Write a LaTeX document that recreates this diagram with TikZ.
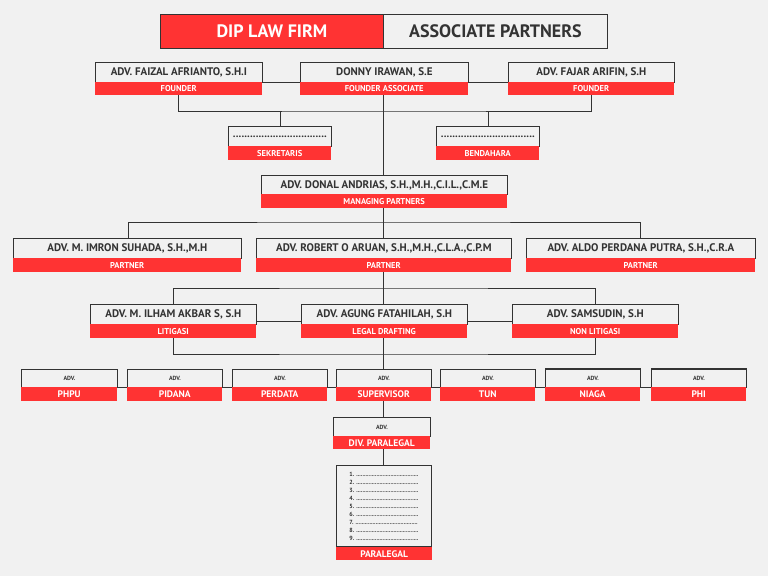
\documentclass[tikz,border=0pt]{standalone}
\usepackage{fontspec}
\setmainfont{PT Sans}
\usetikzlibrary{calc}
\definecolor{bg}{HTML}{F1F1F1}
\definecolor{firmred}{HTML}{FF3333}
\definecolor{ink}{HTML}{333333}
\tikzset{
  top box/.style={draw=ink, line width=0.8pt, fill=bg, inner sep=0pt, text=ink,
    font=\bfseries\fontsize{#1}{#1}\selectfont},
  top box/.default=11,
  role box/.style={fill=firmred, inner sep=0pt, text=white,
    font=\bfseries\fontsize{#1}{#1}\selectfont},
  link/.style={draw=ink, line width=0.7pt},
}
% \post{name}{x1}{x2}{ytop}{ysplit}{ybottom}{name text}{role text}{role size}
\newcommand{\post}[9]{%
  \node[top box, minimum width={#3-#2}, minimum height={#5-#4}, anchor=north west]
    (#1) at (#2,#4) {#7};
  \node[role box=#9, minimum width={#3-#2}, minimum height={#6-#5}, anchor=north west]
    (#1r) at (#2,#5) {#8};}
\begin{document}
\begin{tikzpicture}[x=1pt, y=-1pt]
  \fill[bg] (0,0) rectangle (768,576);
  \useasboundingbox (0,0) rectangle (768,576);
  \coordinate (spine) at (383,0);

  % title
  \node[fill=firmred, draw=ink, line width=0.8pt, minimum width=223, minimum height=34,
    anchor=north west, text=white, font=\bfseries\fontsize{18}{18}\selectfont] (firm) at (160,14) {DIP LAW FIRM};
  \node[top box=18, minimum width=224, minimum height=34, anchor=north west] (assoc) at (383,14) {ASSOCIATE PARTNERS};

  % founders
  \draw[link] (177,82) -- (590,82);
  \post{faizal}{95}{262}{62}{82}{95}{ADV. FAIZAL AFRIANTO, S.H.I}{FOUNDER}{8.5}
  \post{donny}{300}{468}{62}{82}{95}{DONNY IRAWAN, S.E}{FOUNDER ASSOCIATE}{8.5}
  \post{fajar}{508}{674}{62}{82}{95}{ADV. FAJAR ARIFIN, S.H}{FOUNDER}{8.5}
  \coordinate (split) at (383,111);
  \draw[link] (faizalr.south) |- (split) -| (fajarr.south);

  \post{sekre}{228}{331}{126}{146}{160}{.................................}{SEKRETARIS}{8.5}
  \post{benda}{436}{539}{126}{146}{160}{.................................}{BENDAHARA}{8.5}
  \draw[link] (sekre.north) -- (sekre.north |- split);
  \draw[link] (benda.north) -- (benda.north |- split);

  % managing
  \post{donal}{261}{507}{175}{194}{208}{ADV. DONAL ANDRIAS, S.H.,M.H.,C.I.L.,C.M.E}{MANAGING PARTNERS}{8.5}
  \draw[link] (donnyr.south -| spine) -- (donal.north -| spine);

  % partners
  \post{imron}{13}{241}{238}{258}{272}{ADV. M. IMRON SUHADA, S.H.,M.H}{PARTNER}{8.5}
  \post{robert}{256}{511}{238}{258}{272}{ADV. ROBERT O ARUAN, S.H.,M.H.,C.L.A.,C.P.M}{PARTNER}{8.5}
  \post{aldo}{526}{755}{238}{258}{272}{ADV. ALDO PERDANA PUTRA, S.H.,C.R.A}{PARTNER}{8.5}
  \coordinate (pbar) at (383,222);
  \draw[link] (donalr.south -| spine) -- (pbar);
  \draw[link] (128,238) |- (pbar) -| (640,238);
  \draw[link] (robert.north -| spine) -- (pbar);

  % divisions
  \draw[link] (256,321) -- (512,321);
  \post{ilham}{90}{256}{304}{324}{338}{ADV. M. ILHAM AKBAR S, S.H}{LITIGASI}{8.5}
  \post{agung}{301}{467}{304}{324}{338}{ADV. AGUNG FATAHILAH, S.H}{LEGAL DRAFTING}{8.5}
  \post{samsu}{512}{678}{304}{324}{338}{ADV. SAMSUDIN, S.H}{NON LITIGASI}{8.5}
  \coordinate (dbar) at (383,288);
  \draw[link] (robertr.south -| spine) -- (dbar);
  \draw[link] (173,304) |- (dbar) -| (595,304);
  \draw[link] (agung.north -| spine) -- (dbar);
  \coordinate (lbar) at (383,354);
  \draw[link] (173,338) |- (lbar) -| (595,338);
  \draw[link] (agungr.south -| spine) -- (lbar);

  % units
  \draw[link] (117,387) -- (651,387);
  \foreach \nm/\xa/\xb/\role in {phpu/21/117/PHPU, pidana/127/222/PIDANA, perdata/232/327/PERDATA,
      superv/336/431/SUPERVISOR, tun/440/535/TUN, niaga/545/640/NIAGA, phi/651/746/PHI}
    {\post{\nm}{\xa}{\xb}{369}{387}{401}{\fontsize{6}{6}\selectfont ADV.}{\role}{9.5}}
  \draw[ink, line width=2pt] (niaga.north west) -- (niaga.north east);
  \draw[ink, line width=2pt] (phi.north west) -- (phi.north east);
  \draw[link] (lbar) -- (superv.north -| spine);

  % paralegal
  \post{divpara}{333}{430}{417}{436}{449}{\fontsize{6}{6}\selectfont ADV.}{DIV. PARALEGAL}{9.5}
  \draw[link] (supervr.south -| spine) -- (divpara.north -| spine);
  \node[top box=6, minimum width=95, minimum height=81, anchor=north west, align=left] (list) at (336,465)
    {1. ........................................\\[2pt] 2. ........................................\\[2pt]
     3. ........................................\\[2pt] 4. ........................................\\[2pt]
     5. ........................................\\[2pt] 6. ........................................\\[2pt]
     7. ........................................\\[2pt] 8. ........................................\\[2pt]
     9. ........................................};
  \node[role box=9.5, minimum width=96, minimum height=13, anchor=north west] (listr) at (336,547) {PARALEGAL};
  \draw[link] (divparar.south -| spine) -- (list.north -| spine);
\end{tikzpicture}
\end{document}
